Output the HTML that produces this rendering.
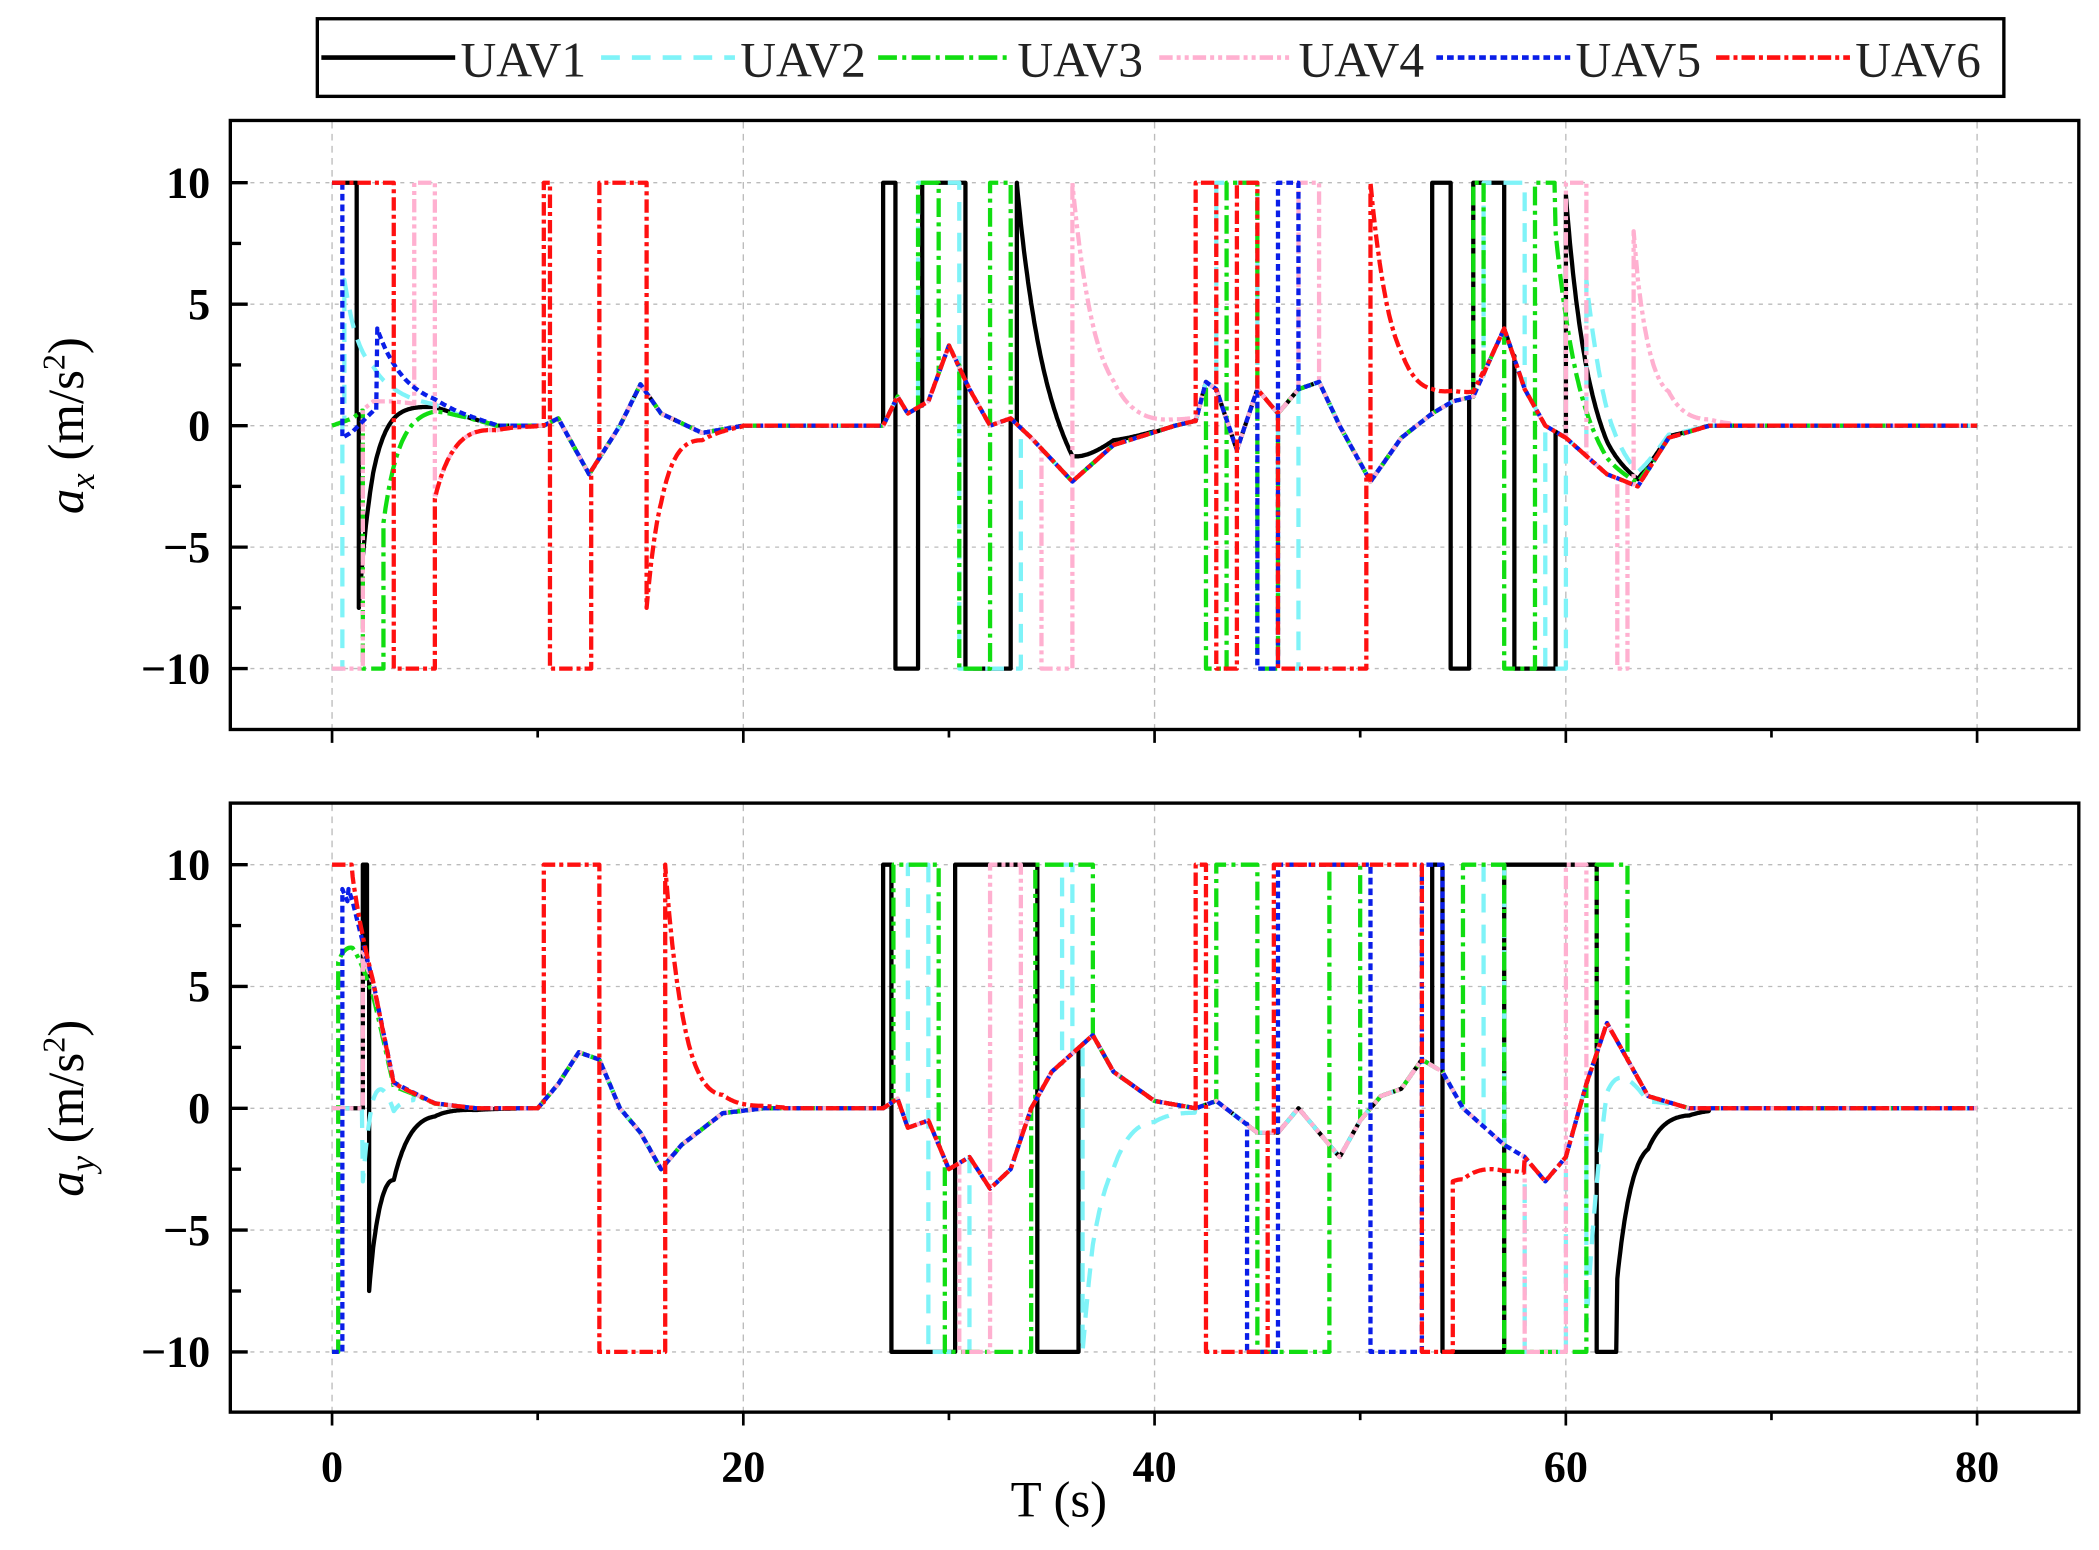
<!DOCTYPE html>
<html><head><meta charset="utf-8"><style>html,body{margin:0;padding:0;background:#fff}svg{display:block;font-family:"Liberation Serif",serif}</style></head>
<body>
<svg id="s" width="2099" height="1550" viewBox="0 0 1568 1158" xmlns="http://www.w3.org/2000/svg" font-family="Liberation Serif, serif">
<defs>
<clipPath id="c1"><rect x="173" y="91" width="1379" height="453"/></clipPath>
<clipPath id="c2"><rect x="173" y="601" width="1379" height="453"/></clipPath>
</defs>
<g id="grid" stroke="#bbb" stroke-width="1"></g>
<g id="series1" clip-path="url(#c1)" fill="none" stroke-width="3.2" stroke-linejoin="round"></g>
<g id="series2" clip-path="url(#c2)" fill="none" stroke-width="3.2" stroke-linejoin="round"></g>
<g id="axes" stroke="#000" fill="none"></g>
<g id="labels" font-weight="bold" font-size="33" fill="#000"></g>
<text x="0" y="0" font-size="38" transform="translate(62,318) rotate(-90)" text-anchor="middle"><tspan font-style="italic">a</tspan><tspan font-style="italic" font-size="26" dy="8">x</tspan><tspan dy="-8"> (m/s</tspan><tspan font-size="24" dy="-14">2</tspan><tspan dy="14">)</tspan></text>
<text x="0" y="0" font-size="38" transform="translate(62,828) rotate(-90)" text-anchor="middle"><tspan font-style="italic">a</tspan><tspan font-style="italic" font-size="26" dy="8">y</tspan><tspan dy="-8"> (m/s</tspan><tspan font-size="24" dy="-14">2</tspan><tspan dy="14">)</tspan></text>
<text x="791" y="1133" font-size="38" text-anchor="middle">T (s)</text>
<g id="legend"></g>
</svg>
<script>
(function(){
var NS="http://www.w3.org/2000/svg";
function el(p,t,a,txt){var e=document.createElementNS(NS,t);for(var k in a)e.setAttribute(k,a[k]);if(txt!==undefined)e.textContent=txt;document.getElementById(p).appendChild(e);return e;}
var X=function(t){return 248+t*15.3625;};
var Y1=function(v){return 318-v*18.15;}, Y2=function(v){return 828-v*18.2;};
var styles=[
 {c:"#000",d:"none"},
 {c:"#7ff3f8",d:"14,9"},
 {c:"#11dd11",d:"14,4,3,4"},
 {c:"#ffb0d0",d:"10,3,3,3,3,3"},
 {c:"#0a1ee8",d:"5,3"},
 {c:"#ff1010",d:"10,3,3,3"}];
var panels=[[91,544,Y1],[601,1054,Y2]];
panels.forEach(function(pp){var tp=pp[0],bt=pp[1],Y=pp[2];
 for(var t=0;t<=80;t+=20) el("grid","line",{x1:X(t),x2:X(t),y1:tp,y2:bt,"stroke-dasharray":"5,4"});
 [10,5,0,-5,-10].forEach(function(v){el("grid","line",{x1:173,x2:1552,y1:Y(v),y2:Y(v),"stroke-dasharray":"3,4"});});
});
panels.forEach(function(pp){var tp=pp[0],bt=pp[1],Y=pp[2];
 el("axes","rect",{x:172,y:tp-1,width:1381,height:bt-tp+2,"stroke-width":"2.5"});
 for(var v=-10;v<=10;v+=2.5){var maj=(v%5==0);el("axes","line",{x1:172,x2:172+(maj?13:8),y1:Y(v),y2:Y(v),"stroke-width":"2.5"});}
 for(var t=0;t<=80;t+=10){var mj=(t%20==0);el("axes","line",{x1:X(t),x2:X(t),y1:bt+1,y2:bt+1+(mj?10:6),"stroke-width":"2"});}
 [10,5,0,-5,-10].forEach(function(v){el("labels","text",{x:157,y:Y(v)+11,"text-anchor":"end"},String(v).replace("-","\u2212"));});
});
for(var t=0;t<=80;t+=20) el("labels","text",{x:X(t),y:1107,"text-anchor":"middle"},String(t));
el("legend","rect",{x:237,y:14,width:1260,height:58,fill:"#fff",stroke:"#000","stroke-width":"2.5"});
var lx=[240,449,656,866,1073,1282];
styles.forEach(function(s,i){el("legend","line",{x1:lx[i],x2:lx[i]+100,y1:43,y2:43,stroke:s.c,"stroke-width":"3.5","stroke-dasharray":s.d});
 el("legend","text",{x:lx[i]+104,y:57,"font-size":"37",fill:"#222"},"UAV"+(i+1));});
function interp(pts,t){if(t<=pts[0][0])return pts[0][1];for(var i=1;i<pts.length;i++){if(t<=pts[i][0]){var a=pts[i-1],b=pts[i];return a[1]+(b[1]-a[1])*(t-a[0])/(b[0]-a[0]);}}return pts[pts.length-1][1];}
var baseTop=[[0,0],[1,0.3],[2,1],[3,1],[5,0.8],[6,0.5],[8,0],[10.3,0],[11,0.3],[12.5,-2],[14,0],[15,1.7],[16,0.5],[18,-0.3],[20,0],[26.8,0],[27.5,1.2],[28,0.5],[29,1],[30,3.3],[31,1.5],[32,0],[33,0.3],[34,-0.5],[36,-2.3],[38,-0.8],[41,0],[42,0.2],[42.5,1.8],[43,1.5],[44,-1],[45,1.5],[46,0.5],[47,1.5],[48,1.8],[49,0],[50.5,-2.3],[52,-0.5],[53.5,0.5],[54.5,1],[55.5,1.2],[57,4],[58,1.5],[59,0],[60,-0.5],[62,-2],[63.5,-2.5],[65,-0.5],[67,0],[80,0]];
var baseBot=[[0,10],[1,8],[2,5],[3,1],[5,0.2],[7,0],[10,0],[11,1],[12,2.3],[13,2],[14,0],[15,-1],[16,-2.5],[17,-1.5],[19,-0.2],[21,0],[26.8,0],[27.5,0.4],[28,-0.8],[29,-0.5],[30,-2.5],[31,-2],[32,-3.3],[33,-2.5],[34,0],[35,1.5],[37,3],[38,1.5],[40,0.3],[42,0],[43,0.3],[45,-1],[46,-1],[47,0],[48,-1],[49,-2],[50,-0.5],[51,0.5],[52,0.8],[53,2],[54,1.5],[55,0],[57,-1.5],[58,-2],[59,-3],[60,-2],[61,1],[62,3.5],[63,2],[64,0.5],[66,0],[80,0]];
function make(base,pulses,decays){
 function f(t){for(var i=0;i<pulses.length;i++){var p=pulses[i];if(t>=p[0]&&t<p[1])return p[2];}
  for(var j=0;j<decays.length;j++){var d=decays[j];if(t>=d[0]&&t<d[1]){var b=interp(base,t);return b+(d[2]-interp(base,d[0]))*Math.exp(-(t-d[0])/d[3]);}}
  return interp(base,t);}
 var pts=[],prev=null;
 for(var i=0;i<=1600;i++){var t=i*0.05;var v=f(t);if(prev!==null&&Math.abs(v-prev)>4)pts.push([t,prev]);pts.push([t,v]);prev=v;}
 return pts;
}
var topDefs=[
 [[[0,1.2,10],[26.8,27.4,10],[27.4,28.5,-10],[28.7,30.8,10],[30.8,33,-10],[53.5,54.4,10],[54.4,55.3,-10],[55.5,57,10],[57.5,59.5,-10]],[[1.3,8,-7.5,0.7],[33.3,40,10,1.2],[60,67,9.5,1]]],
 [[[0,0.5,-10],[28.5,30.5,10],[30.5,33.5,-10],[43,45,10],[46,47,-10],[56,58,10],[59,60,-10]],[[0.6,6,6,1],[61,67,6,1]]],
 [[[1.5,2.5,-10],[28.5,29.5,10],[30.5,32,-10],[32,33,10],[42.5,43.5,-10],[43.5,45,10],[45,46,-10],[55.5,56,10],[57,58.5,-10],[58.5,59.5,10]],[[2.5,7,-4,0.8],[59.5,64,8,1]]],
 [[[0,1.5,-10],[4,5,10],[34.5,36,-10],[47,48,10],[60,61,10],[62.5,63,-10]],[[5,10,-3,1],[36,42,10,1.3],[63.3,68,8,1]]],
 [[[0,0.5,10],[45,46,-10],[46,47,10]],[[0.5,2.2,-0.5,3],[2.2,8,4,1.2]]],
 [[[0,3,10],[3,5,-10],[10.3,10.6,10],[10.6,12.6,-10],[13,15.3,10],[42,43,10],[43,44,-10],[44,45,10],[46,47.5,-10],[47.5,50.3,-10]],[[5,10,-3,1],[15.3,20,-7.5,0.8],[50.5,56,10,1.2]]]
];
var botDefs=[
 [[[0,1.5,0],[1.5,1.7,10],[26.8,27.2,10],[27.2,30.3,-10],[30.3,34.3,10],[34.3,36.3,-10],[53.5,54,10],[54,57,-10],[57,61.5,10],[61.5,62.5,-10]],[[1.8,9,-7.5,1],[62.5,67,-7,1]]],
 [[[0,1.5,0],[28,29,10],[29,31,-10],[35.5,36,10],[56,57,10],[58,60,-10]],[[1.5,4,-3,0.7],[36.5,42,-10,1.3],[61,65,-9,0.8]]],
 [[[0,0.3,-10],[27.3,29.5,10],[29.8,34,-10],[34.2,37,10],[43,45,10],[45,48.5,-10],[48.5,50,10],[55,57,10],[57,61,-10],[61.5,63,10]],[[0.3,6,6,0.8]]],
 [[[0,1.5,0],[30.5,32,-10],[32,33.5,10],[58,60,-10],[60,61,10]],[]],
 [[[0,0.5,-10],[44.5,46,-10],[46,50.5,10],[50.5,53,-10],[53,54,10]],[[0.8,6,9,1]]],
 [[[0,1,10],[10.3,13,10],[13,16.2,-10],[42,42.5,10],[42.5,45.5,-10],[45.8,53,10],[53,54.5,-10]],[[1,4,9.5,0.5],[16.2,22,10,1],[54.5,58,-3,2]]]
];
function draw(g,base,defs,Y){defs.forEach(function(d,i){var pts=make(base,d[0],d[1]);
 el(g,"path",{d:"M"+pts.map(function(p){return X(p[0]).toFixed(1)+","+Y(p[1]).toFixed(1);}).join("L"),stroke:styles[i].c,"stroke-dasharray":styles[i].d});});}
draw("series1",baseTop,topDefs,Y1);draw("series2",baseBot,botDefs,Y2);
})();
</script>
</body></html>
